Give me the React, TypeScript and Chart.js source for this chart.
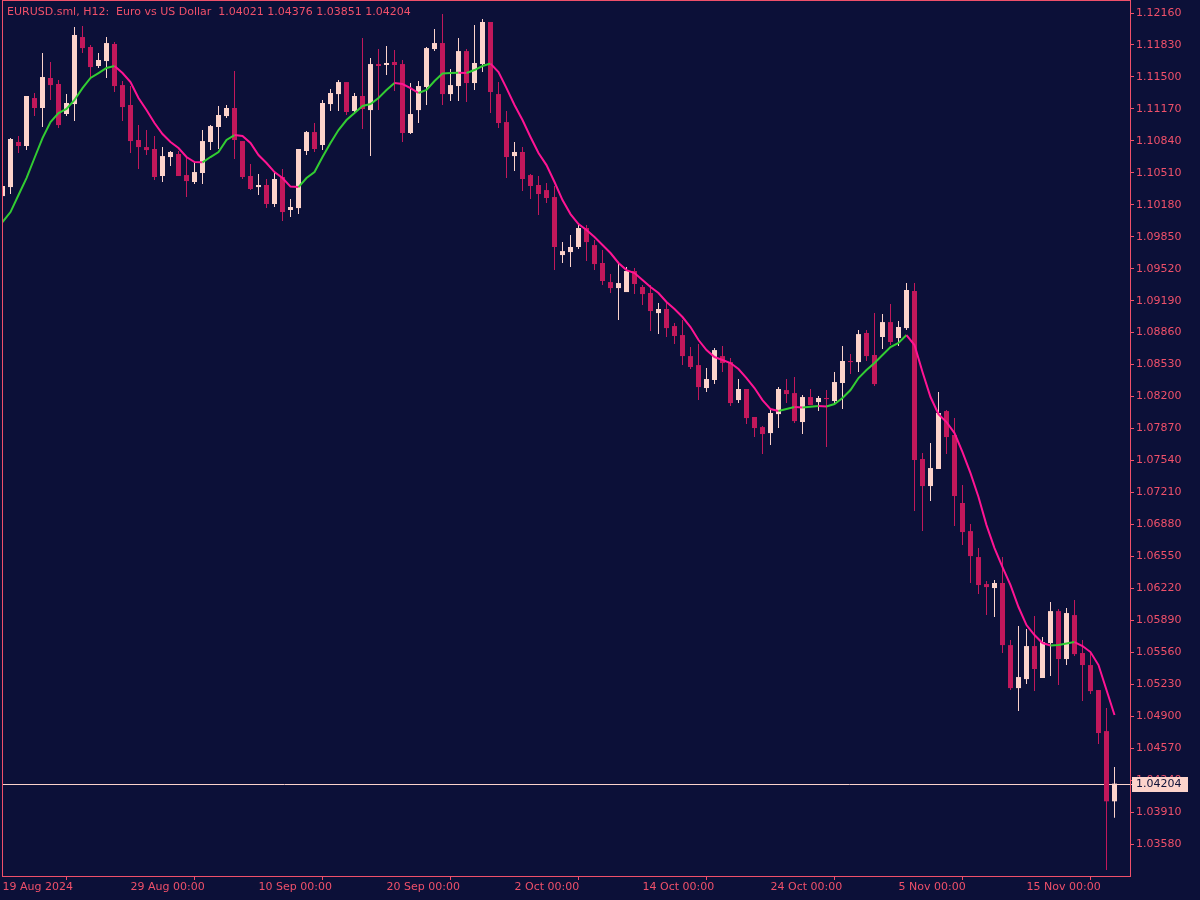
import React, { useEffect, useRef } from "react";
import { Chart, registerables } from "chart.js";

Chart.register(...registerables);

const symbolTitle = "EURUSD.sml, H12:  Euro vs US Dollar";

const dateTickIndex = [0, 16, 32, 48, 64, 80, 96, 112, 128];
const dateTickLabels = [
  "19 Aug 2024", "29 Aug 00:00", "10 Sep 00:00", "20 Sep 00:00", "2 Oct 00:00",
  "14 Oct 00:00", "24 Oct 00:00", "5 Nov 00:00", "15 Nov 00:00",
];

const priceTicks = [
  1.1216, 1.1183, 1.115, 1.1117, 1.1084, 1.1051, 1.1018, 1.0985, 1.0952, 1.0919,
  1.0886, 1.0853, 1.082, 1.0787, 1.0754, 1.0721, 1.0688, 1.0655, 1.0622, 1.0589,
  1.0556, 1.0523, 1.049, 1.0457, 1.0424, 1.0391, 1.0358,
];

const opens = [
  1.1027, 1.10363, 1.10828, 1.10787, 1.11282, 1.11179, 1.11489, 1.11427, 1.11117, 1.1122,
  1.11912, 1.11809, 1.11613, 1.11664, 1.1184, 1.11416, 1.1121, 1.10849, 1.10776, 1.10756,
  1.10477, 1.10673, 1.10704, 1.10487, 1.10415, 1.10508, 1.10828, 1.10983, 1.11096, 1.11179,
  1.10838, 1.10477, 1.10363, 1.10384, 1.10188, 1.10467, 1.10126, 1.10146, 1.10735, 1.10931,
  1.10797, 1.1122, 1.11323, 1.11447, 1.11148, 1.11303, 1.11158, 1.11633, 1.11623, 1.11654,
  1.11633, 1.10921, 1.11158, 1.11396, 1.11788, 1.1185, 1.11323, 1.11406, 1.11767, 1.11437,
  1.11633, 1.12067, 1.11323, 1.11034, 1.10683, 1.10725, 1.10487, 1.10384, 1.10332, 1.1026,
  1.09661, 1.09692, 1.09744, 1.0994, 1.09764, 1.09579, 1.09382, 1.0932, 1.09279, 1.09496,
  1.09331, 1.09269, 1.09062, 1.09104, 1.08928, 1.08835, 1.08618, 1.08525, 1.08288, 1.08371,
  1.08618, 1.08556, 1.08164, 1.08278, 1.07989, 1.07885, 1.07823, 1.08019, 1.08267, 1.08236,
  1.07937, 1.08195, 1.08143, 1.08185, 1.08154, 1.0834, 1.08567, 1.08556, 1.08856, 1.08629,
  1.08815, 1.08969, 1.08804, 1.08907, 1.09289, 1.07555, 1.07276, 1.07452, 1.0805, 1.07803,
  1.07101, 1.06811, 1.06543, 1.06264, 1.06223, 1.06275, 1.05634, 1.0519, 1.05283, 1.05624,
  1.05294, 1.05655, 1.05985, 1.0549, 1.05944, 1.05552, 1.05428, 1.0517, 1.04746, 1.04021,
];

const highs = [
  1.10394, 1.10869, 1.1089, 1.11303, 1.11334, 1.11747, 1.11654, 1.11468, 1.11323, 1.12015,
  1.12026, 1.11829, 1.11747, 1.11912, 1.1186, 1.11458, 1.11406, 1.11003, 1.10952, 1.1089,
  1.10776, 1.10735, 1.10735, 1.10683, 1.10621, 1.10952, 1.11003, 1.112, 1.1121, 1.11561,
  1.10838, 1.10601, 1.10497, 1.10446, 1.10508, 1.10549, 1.10239, 1.10756, 1.10941, 1.11024,
  1.11262, 1.11375, 1.11468, 1.11447, 1.11334, 1.11902, 1.11695, 1.11788, 1.11819, 1.11778,
  1.11675, 1.11437, 1.11458, 1.11809, 1.11995, 1.12149, 1.11582, 1.11902, 1.11788, 1.12036,
  1.12098, 1.12067, 1.11447, 1.11148, 1.10828, 1.10776, 1.10497, 1.10477, 1.10405, 1.10374,
  1.09795, 1.09868, 1.09971, 1.09971, 1.09816, 1.09713, 1.09465, 1.09568, 1.09537, 1.09527,
  1.09351, 1.09351, 1.09166, 1.09166, 1.08959, 1.0899, 1.08711, 1.08742, 1.08494, 1.08701,
  1.08722, 1.08598, 1.08381, 1.08278, 1.07989, 1.07896, 1.08071, 1.08298, 1.08381, 1.08402,
  1.08216, 1.08278, 1.08205, 1.08267, 1.08453, 1.08722, 1.08639, 1.08887, 1.08887, 1.09062,
  1.09052, 1.09155, 1.0898, 1.09372, 1.09372, 1.07617, 1.0772, 1.08247, 1.08061, 1.07978,
  1.07286, 1.06884, 1.06636, 1.06295, 1.06306, 1.06543, 1.05686, 1.05831, 1.058, 1.05934,
  1.05717, 1.06078, 1.06006, 1.06016, 1.06099, 1.05686, 1.05562, 1.0517, 1.04984, 1.04376,
];

const lows = [
  1.10229, 1.10291, 1.10714, 1.10745, 1.11096, 1.10983, 1.11262, 1.10972, 1.11096, 1.11045,
  1.11747, 1.11499, 1.11592, 1.11489, 1.11344, 1.11045, 1.10714, 1.10549, 1.10694, 1.10436,
  1.10415, 1.1058, 1.10477, 1.1026, 1.10394, 1.10394, 1.10745, 1.10756, 1.11076, 1.10652,
  1.10446, 1.10332, 1.10281, 1.10146, 1.10157, 1.10012, 1.10054, 1.10084, 1.10694, 1.10725,
  1.10745, 1.11148, 1.11148, 1.11107, 1.11117, 1.10962, 1.10683, 1.11158, 1.1152, 1.11354,
  1.10828, 1.1091, 1.11024, 1.1121, 1.11767, 1.1121, 1.11251, 1.11251, 1.11241, 1.11365,
  1.11551, 1.11127, 1.10972, 1.10456, 1.10528, 1.10322, 1.10239, 1.10074, 1.10198, 1.09506,
  1.09579, 1.09537, 1.09723, 1.09599, 1.09506, 1.09351, 1.09269, 1.0899, 1.09279, 1.09258,
  1.09145, 1.08876, 1.08845, 1.08815, 1.08742, 1.08525, 1.08484, 1.08164, 1.08247, 1.08329,
  1.08453, 1.08102, 1.08133, 1.07916, 1.07782, 1.07606, 1.07699, 1.07875, 1.08133, 1.07927,
  1.07813, 1.08112, 1.0805, 1.07679, 1.08123, 1.08071, 1.08432, 1.08453, 1.08567, 1.08309,
  1.08691, 1.08732, 1.08722, 1.08887, 1.07018, 1.06811, 1.07121, 1.07452, 1.07606, 1.06863,
  1.06667, 1.06275, 1.06161, 1.05944, 1.05923, 1.05552, 1.0517, 1.04953, 1.05232, 1.05159,
  1.05294, 1.05314, 1.05221, 1.05428, 1.05521, 1.05056, 1.05128, 1.04612, 1.03311, 1.03851,
];

const closes = [
  1.10374, 1.10859, 1.10787, 1.11303, 1.11179, 1.11499, 1.11416, 1.11003, 1.11231, 1.11933,
  1.11798, 1.11602, 1.11675, 1.1185, 1.11406, 1.11189, 1.10838, 1.10776, 1.10745, 1.10467,
  1.10683, 1.10725, 1.10477, 1.10425, 1.10518, 1.10838, 1.10993, 1.11107, 1.11179, 1.10849,
  1.10467, 1.10343, 1.10384, 1.10188, 1.10446, 1.10105, 1.10157, 1.10756, 1.10931, 1.10756,
  1.11231, 1.11334, 1.11447, 1.11138, 1.11303, 1.11169, 1.11633, 1.11613, 1.11644, 1.11623,
  1.10921, 1.11117, 1.11406, 1.11798, 1.1185, 1.11323, 1.11416, 1.11767, 1.11437, 1.11644,
  1.12067, 1.11344, 1.11024, 1.10673, 1.10725, 1.10446, 1.10374, 1.10291, 1.1025, 1.09744,
  1.09702, 1.09744, 1.0994, 1.09795, 1.09568, 1.09393, 1.0932, 1.09372, 1.09496, 1.09362,
  1.09258, 1.09083, 1.09104, 1.08907, 1.08825, 1.08618, 1.08505, 1.08298, 1.08381, 1.0868,
  1.08546, 1.08133, 1.08278, 1.07978, 1.07875, 1.07813, 1.0803, 1.08278, 1.08226, 1.07947,
  1.08195, 1.08112, 1.08185, 1.08174, 1.0835, 1.08567, 1.08556, 1.08845, 1.08618, 1.08329,
  1.08969, 1.08763, 1.08918, 1.093, 1.07545, 1.07276, 1.07462, 1.0803, 1.07782, 1.07173,
  1.06801, 1.06553, 1.06254, 1.06233, 1.06275, 1.05634, 1.0519, 1.05304, 1.05624, 1.05387,
  1.05665, 1.05985, 1.0549, 1.05965, 1.05541, 1.05428, 1.05159, 1.04726, 1.04021, 1.04204,
];

const maValues = [
  1.10002, 1.10105, 1.10281, 1.10456, 1.10663, 1.10869, 1.11034, 1.11127, 1.11169, 1.11262,
  1.11385, 1.11489, 1.1154, 1.11592, 1.11613, 1.1154, 1.11447, 1.11282, 1.11158, 1.11024,
  1.1091, 1.10828, 1.10766, 1.10673, 1.10621, 1.10618, 1.10673, 1.10725, 1.10849, 1.109,
  1.1089, 1.10818, 1.10694, 1.10611, 1.10518, 1.10456, 1.10368, 1.10363, 1.10456, 1.10518,
  1.10673, 1.10818, 1.10952, 1.11055, 1.11127, 1.112, 1.1122, 1.11282, 1.11365, 1.11437,
  1.11427, 1.11385, 1.11334, 1.11365, 1.11458, 1.11535, 1.1154, 1.11543, 1.1154, 1.11571,
  1.11613, 1.11638, 1.11551, 1.11385, 1.1121, 1.11055, 1.1088, 1.10714, 1.1059, 1.10415,
  1.10229, 1.10084, 1.09981, 1.09919, 1.09847, 1.09764, 1.09682, 1.09579, 1.09506, 1.09475,
  1.09403, 1.09331, 1.09269, 1.09176, 1.09104, 1.09021, 1.08918, 1.08784, 1.0868, 1.08608,
  1.08577, 1.08546, 1.08484, 1.08391, 1.08288, 1.08164, 1.08071, 1.0805, 1.08071, 1.08092,
  1.08088, 1.08096, 1.08102, 1.08097, 1.08123, 1.08185, 1.08267, 1.08391, 1.08474, 1.08546,
  1.08629, 1.08711, 1.08753, 1.08835, 1.08732, 1.08453, 1.08195, 1.08019, 1.07937, 1.07823,
  1.07627, 1.0741, 1.07163, 1.06873, 1.06636, 1.0644, 1.06254, 1.06027, 1.05841, 1.05738,
  1.05655, 1.05629, 1.05634, 1.0565, 1.05665, 1.05624, 1.05562, 1.05428, 1.0517, 1.04912,
];

const BG = "#0c1038";
const AXIS = "#f0506a";
const BULL = "#fcd3cb";
const BEAR = "#c2185b";
const MA_UP = "#32cd32";
const MA_DOWN = "#ff1493";
const FONT = '"DejaVu Sans"';

export default function App() {
  const ref = useRef<HTMLCanvasElement>(null);

  useEffect(() => {
    document.body.style.margin = "0";
    document.body.style.background = BG;
    const canvas = ref.current;
    if (!canvas) return;

    const idx = opens.map((_, i) => i);
    const colors = idx.map((i) => (closes[i] >= opens[i] ? BULL : BEAR));
    const last = opens.length - 1;
    const lastClose = closes[last];

    const bgPlugin = {
      id: "bg",
      beforeDraw(chart: any) {
        const ctx = chart.ctx;
        ctx.save();
        ctx.fillStyle = BG;
        ctx.fillRect(0, 0, chart.width, chart.height);
        ctx.restore();
      },
      beforeDatasetsDraw(chart: any) {
        const ctx = chart.ctx;
        const { left, right } = chart.chartArea;
        const y = Math.round(chart.scales.y.getPixelForValue(lastClose)) + 0.5;
        ctx.save();
        ctx.strokeStyle = BULL;
        ctx.lineWidth = 1;
        ctx.beginPath();
        ctx.moveTo(left, y);
        ctx.lineTo(right + 2, y);
        ctx.stroke();
        ctx.restore();
      },
      afterDraw(chart: any) {
        const ctx = chart.ctx;
        const { left, right, top, bottom } = chart.chartArea;
        ctx.save();
        ctx.strokeStyle = AXIS;
        ctx.lineWidth = 1;
        ctx.strokeRect(left + 0.5, top - 0.5, right - left, bottom - top + 1);
        // current price box
        const y = Math.round(chart.scales.y.getPixelForValue(lastClose));
        ctx.fillStyle = BULL;
        ctx.fillRect(right + 2, y - 7, 56, 15);
        ctx.fillStyle = BG;
        ctx.font = `11px ${FONT}`;
        ctx.textBaseline = "middle";
        ctx.textAlign = "left";
        ctx.fillText(lastClose.toFixed(5), right + 6, y + 0.5);
        // title
        ctx.fillStyle = AXIS;
        const title = `${symbolTitle}  ${opens[last].toFixed(5)} ${highs[last].toFixed(5)} ${lows[last].toFixed(5)} ${closes[last].toFixed(5)}`;
        ctx.fillText(title, 7, 12);
        ctx.restore();
      },
    };

    const chart = new Chart(canvas, {
      type: "bar",
      data: {
        datasets: [
          {
            type: "line",
            label: "MA",
            data: idx.map((i) => ({ x: i, y: maValues[i] })),
            borderWidth: 2,
            pointRadius: 0,
            tension: 0,
            borderColor: MA_UP,
            segment: {
              borderColor: (c: any) => (c.p1.parsed.y >= c.p0.parsed.y ? MA_UP : MA_DOWN),
            },
            order: 0,
          } as any,
          {
            type: "bar",
            label: "body",
            data: idx.map((i) => ({ x: i, y: [Math.min(opens[i], closes[i]), Math.max(opens[i], closes[i])] })),
            backgroundColor: colors,
            barThickness: 5,
            grouped: false,
            minBarLength: 1,
            borderWidth: 0,
            inflateAmount: 0,
            order: 1,
          } as any,
          {
            type: "bar",
            label: "wick",
            data: idx.map((i) => ({ x: i, y: [lows[i], highs[i]] })),
            backgroundColor: colors,
            barThickness: 1,
            grouped: false,
            minBarLength: 1,
            borderWidth: 0,
            inflateAmount: 0,
            order: 2,
          } as any,
        ],
      },
      options: {
        responsive: false,
        animation: false,
        layout: { padding: { left: 2, top: 1, right: 0, bottom: 0 } },
        plugins: { legend: { display: false }, tooltip: { enabled: false } },
        scales: {
          x: {
            type: "linear",
            position: "bottom",
            min: -0.0625,
            max: 140.9375,
            offset: false,
            afterBuildTicks: (s: any) => {
              s.ticks = dateTickIndex.map((v) => ({ value: v }));
            },
            afterFit: (s: any) => {
              s.height = 24;
              s.paddingLeft = 0;
              s.paddingRight = 0;
            },
            ticks: {
              autoSkip: false,
              maxRotation: 0,
              minRotation: 0,
              align: "start",
              padding: 1,
              color: AXIS,
              font: { family: FONT, size: 11 },
              callback: (_v: any, i: number) => dateTickLabels[i],
            },
            grid: { drawOnChartArea: false, drawTicks: true, tickLength: 4, color: AXIS },
            border: { display: false },
          },
          y: {
            type: "linear",
            position: "right",
            min: 1.0325,
            max: 1.12284,
            afterBuildTicks: (s: any) => {
              s.ticks = priceTicks.map((v) => ({ value: v }));
            },
            afterFit: (s: any) => {
              s.width = 70;
              s.paddingTop = 0;
              s.paddingBottom = 0;
            },
            ticks: {
              autoSkip: false,
              padding: 2,
              color: AXIS,
              font: { family: FONT, size: 11 },
              callback: (v: any) => Number(v).toFixed(5),
            },
            grid: { drawOnChartArea: false, drawTicks: true, tickLength: 4, color: AXIS },
            border: { display: false },
          },
        },
      } as any,
      plugins: [bgPlugin],
    });

    return () => chart.destroy();
  }, []);

  return (
    <div style={{ width: 1200, height: 900, background: BG }}>
      <canvas ref={ref} width={1200} height={900} style={{ display: "block" }} />
    </div>
  );
}
